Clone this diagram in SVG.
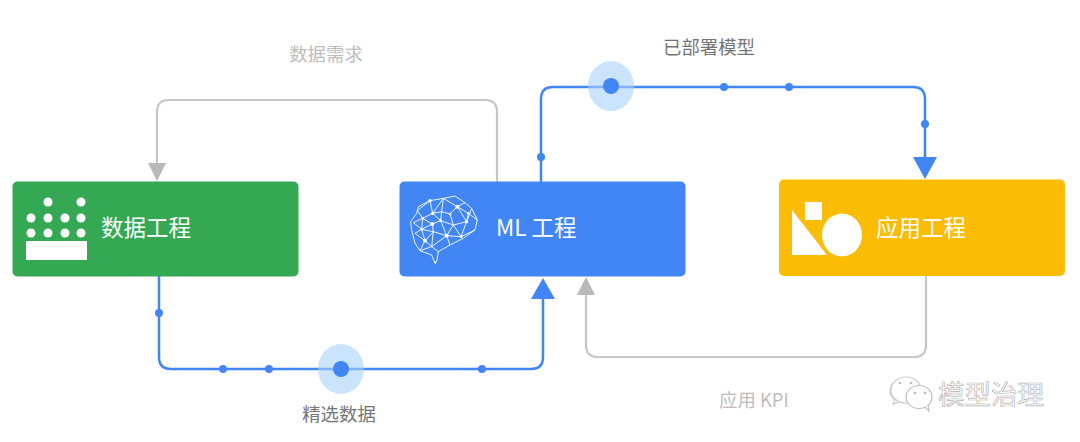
<svg xmlns="http://www.w3.org/2000/svg" width="1080" height="442" viewBox="0 0 1080 442">
<style>
.cn{font-family:"Noto Sans CJK SC","Noto Sans",sans-serif}
.nl{font-size:22.500px;fill:#fff}
.lb{font-size:18.400px;text-anchor:middle}
.dk{fill:#757575}
.lt{fill:#bdbdbd}
.b{fill:none;stroke:#4285f4;stroke-width:2.500}
.g{fill:none;stroke:#c6c6c6;stroke-width:2.200}
.dot{fill:#4285f4}
.halo{fill:#cbe4fe}
.w{fill:#fff}
.mesh{fill:none;stroke:#fff;stroke-width:3;stroke-linejoin:round;opacity:.9}
</style>
<defs>
<circle id="d" r="4" class="dot"/>
</defs>
<rect width="1080" height="442" fill="#fff"/>
<g id="connectors">
<path class="g" d="M497 182V112Q497 100 485 100H169Q157 100 157 112V165"/>
<polygon points="148,163 166,163 157,181" fill="#b8b8b8"/>
<path class="g" d="M926 276V345Q926 357 914 357H598Q586 357 586 345V295"/>
<polygon points="577,295 595,295 586,277" fill="#b8b8b8"/>
<path class="b" d="M159 276V357Q159 369 171 369H531Q543 369 543 357V298"/>
<polygon points="531,299 555,299 543,278" class="dot"/>
<path class="b" d="M541 182V99Q541 87 553 87H913Q925 87 925 99V160"/>
<polygon points="913,157 937,157 925,179" class="dot"/>
<ellipse class="halo" cx="341" cy="369" rx="23" ry="25"/>
<path d="M318 369H364" stroke="#7fb0f8" stroke-width="2.500"/>
<circle cx="341" cy="369" r="8" class="dot"/>
<ellipse class="halo" cx="611" cy="86" rx="23" ry="25"/>
<path d="M588 87H634" stroke="#7fb0f8" stroke-width="2.500"/>
<circle cx="611" cy="86" r="8" class="dot"/>
<use href="#d" x="159" y="313"/>
<use href="#d" x="223" y="369"/>
<use href="#d" x="269" y="369"/>
<use href="#d" x="482" y="369"/>
<use href="#d" x="541" y="157"/>
<use href="#d" x="724" y="87"/>
<use href="#d" x="789" y="87"/>
<use href="#d" x="925" y="124"/>
</g>
<g id="label-req"><text class="cn lb lt" x="326" y="61">数据需求</text></g>
<g id="label-deploy"><text class="cn lb dk" x="709" y="54">已部署模型</text></g>
<g id="label-curated"><text class="cn lb dk" x="339" y="421">精选数据</text></g>
<g id="label-kpi"><text class="cn lb lt" x="754" y="407">应用 KPI</text></g>
<g id="node-data">
<rect x="12.500" y="181.500" width="286" height="95" rx="5" fill="#34a853"/>
<g class="w">
<circle cx="48" cy="202" r="4.500"/><circle cx="81" cy="202" r="4.500"/>
<circle cx="31" cy="218" r="4.500"/><circle cx="48" cy="218" r="4.500"/><circle cx="65" cy="218" r="4.500"/><circle cx="81" cy="218" r="4.500"/>
<circle cx="31" cy="233" r="4.500"/><circle cx="48" cy="233" r="4.500"/><circle cx="65" cy="233" r="4.500"/><circle cx="81" cy="233" r="4.500"/>
<rect x="26" y="241" width="61" height="19" rx="1"/>
</g>
<text class="cn nl" x="101" y="236">数据工程</text>
</g>
<g id="node-ml">
<rect x="399.500" y="181.500" width="286" height="95" rx="5" fill="#4285f4"/>
<g transform="translate(400 180) scale(.3333)">
<path class="mesh" d="M105 250L95 225L60 212L45 190L35 150L32 125L50 100L55 80L90 62L130 55L165 48L195 68L215 85L232 120L225 150L190 175L150 195L115 215L110 245Z"/>
<path class="mesh" d="M90 62L98 100L125 95L130 55L172 80L150 102L125 95L122 122L98 100L68 115L52 92L90 62M68 115L97 132L122 122L160 135L150 102M172 80L205 100L200 125L160 135L140 167L183 170L200 125L215 85M195 68L172 80L200 125M40 128L68 115L65 148L97 132L100 155L140 167L122 122M40 128L65 148L45 160L75 182L65 148L100 155L75 182L95 200L140 167L150 195M95 200L115 215M75 182L60 212L95 200M183 170L225 150M100 155L95 200M130 55L98 100M160 135L183 170M205 100L232 120"/>
<g class="w"><circle cx="90" cy="62" r="5"/><circle cx="172" cy="80" r="6"/><circle cx="98" cy="100" r="5"/><circle cx="97" cy="132" r="6"/><circle cx="68" cy="115" r="4"/><circle cx="200" cy="125" r="5"/><circle cx="140" cy="167" r="6"/><circle cx="75" cy="182" r="6"/><circle cx="65" cy="148" r="4"/><circle cx="122" cy="122" r="4"/><circle cx="183" cy="170" r="4"/><circle cx="205" cy="100" r="4"/><circle cx="150" cy="102" r="4"/><circle cx="105" cy="247" r="3"/></g>
</g>
<text class="cn nl" x="496" y="236">ML 工程</text>
</g>
<g id="node-app">
<rect x="779" y="179.500" width="286" height="96.500" rx="5" fill="#fbbc05"/>
<g class="w">
<rect x="805" y="202" width="17" height="18"/>
<polygon points="792,210 827,255 792,255"/>
<ellipse cx="842" cy="235" rx="20" ry="21.500"/>
</g>
<text class="cn nl" x="876" y="236">应用工程</text>
</g>
<g id="watermark">
<path d="M906 378C897 378 890 384 890 391C890 395 892 398 895 400L893 404L899 402C901 403 903 403 906 403" fill="#fff" stroke="#c8c8c8" stroke-width="1.200"/>
<ellipse cx="906" cy="390" rx="15" ry="13" fill="#fff" stroke="#d0d0d0" stroke-width="1.200"/>
<ellipse cx="919" cy="397" rx="13" ry="11.500" fill="#fff" stroke="#c0c0c0" stroke-width="1.200"/>
<path d="M925 407L929 411L928 405" fill="#fff" stroke="#c0c0c0" stroke-width="1.200"/>
<circle cx="900" cy="383" r="1.300" fill="#bbb"/><circle cx="911" cy="383" r="1.300" fill="#bbb"/>
<circle cx="915" cy="393" r="1.300" fill="#bbb"/><circle cx="925" cy="393" r="1.300" fill="#bbb"/>
<text class="cn" x="938" y="404" font-size="26.500" fill="#fff" stroke="#b5b5b5" stroke-width=".7">模型治理</text>
</g>
</svg>
